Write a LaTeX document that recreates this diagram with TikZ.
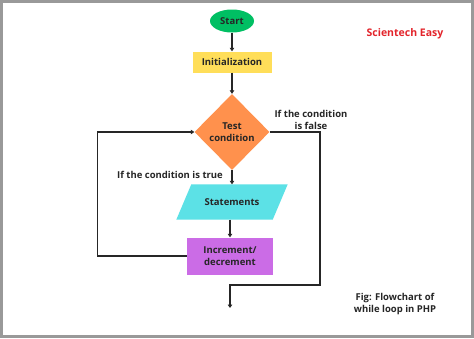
\documentclass[tikz,border=0pt]{standalone}
\usepackage{fontspec}
\setmainfont{Open Sans}
\usetikzlibrary{arrows.meta,positioning,shapes.geometric,backgrounds}

\definecolor{startgreen}{HTML}{00BF63}
\definecolor{inityellow}{HTML}{FFDE59}
\definecolor{testorange}{HTML}{FF914D}
\definecolor{statcyan}{HTML}{5CE1E6}
\definecolor{incpurple}{HTML}{CB6CE6}
\definecolor{brandred}{HTML}{E3242B}

\begin{document}
\begin{tikzpicture}[x=1pt, y=-1pt,
  txt/.style={font=\bfseries\fontsize{9.5}{12.5}\selectfont, align=center, inner sep=0pt, text=black!85},
  flow/.style={line width=1.1pt, black!85, -{Triangle[width=4.5pt,length=3.5pt]}}]
  % canvas and frame
  \useasboundingbox (0,0) rectangle (474,338);
  \begin{scope}[on background layer]
    \fill[white] (0,0) rectangle (474,338);
  \end{scope}
  \draw[black!40, line width=3pt] (1.5,1.5) rectangle (472.5,336.5);

  % Flow nodes
  \node[txt, ellipse, fill=startgreen, minimum width=44pt, minimum height=23pt] (start) at (232,21) {Start};
  \node[txt, fill=inityellow, minimum width=79pt, minimum height=21pt] (init) at (232,62) {Initialization};
  \node[txt, diamond, fill=testorange, minimum width=75pt, minimum height=76pt] (test) at (232,132) {Test\\condition};
  \node[txt, minimum width=96pt, minimum height=35pt] (stat) at (232,202) {Statements};
  \node[txt, fill=incpurple, minimum width=86pt, minimum height=37pt] (inc) at (230,256) {Increment/\\decrement};
  \coordinate (exit) at (230,308);
  % parallelogram behind the statements text
  \begin{scope}[on background layer]
    \fill[statcyan] ([xshift=-7.5pt]stat.south west) -- ([xshift=7.5pt]stat.north west)
      -- ([xshift=7.5pt]stat.north east) -- ([xshift=-7.5pt]stat.south east) -- cycle;
  \end{scope}

  % Labels
  \node[txt] (falselbl) at (311,120) {If the condition\\is false};
  \node[txt] (truelbl) at (170,175) {If the condition is true};
  \node[txt, font=\bfseries\fontsize{10.5}{12}\selectfont, text=brandred] (brand) at (405,34) {Scientech Easy};
  \node[txt] (caption) at (395,304) {Fig: Flowchart of\\while loop in PHP};

  % Connectors
  \draw[flow] (start) -- (init);
  \draw[flow] (init) -- (test);
  \draw[flow] (test) -- (stat);
  \draw[flow] (stat.south -| inc) -- (inc);
  \draw[flow] (inc.west) -- ++(-89,0) |- (test.west);
  \draw[flow] (test.east) -| (320,285) -| (exit);
\end{tikzpicture}
\end{document}
